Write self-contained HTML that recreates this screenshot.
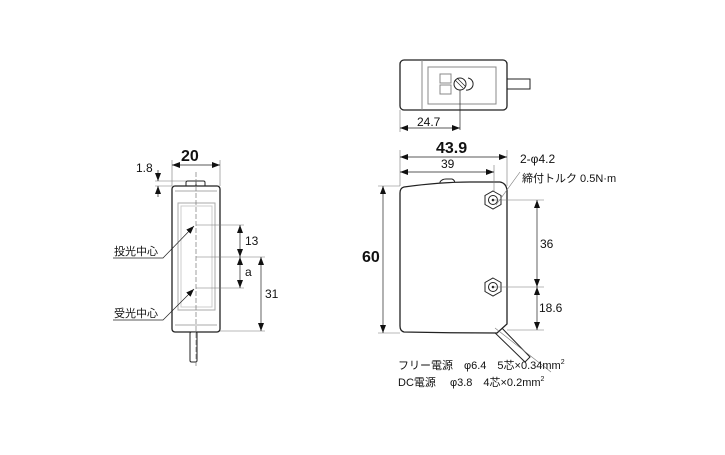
<!DOCTYPE html>
<html><head><meta charset="utf-8"><style>
body{margin:0;background:#fff;width:725px;height:450px;overflow:hidden}
text{font-family:"Liberation Sans","Noto Sans CJK JP",sans-serif;fill:#111}
</style></head><body>
<svg width="725" height="450" viewBox="0 0 725 450" xmlns="http://www.w3.org/2000/svg">
<defs>
<marker id="a" markerWidth="8" markerHeight="6" refX="8" refY="3" orient="auto-start-reverse" markerUnits="userSpaceOnUse"><path d="M0,0 L8,3 L0,6z" fill="#111"/></marker>
</defs>
<g fill="none" stroke="#222" stroke-width="1">
<rect x="186" y="181" width="19" height="6" rx="1.5" fill="#fff"/>
<line x1="196" y1="181" x2="196" y2="187"/>
<rect x="172" y="186" width="48" height="146" rx="3" stroke-width="1.3" fill="#fff"/>
<line x1="175" y1="191" x2="217" y2="191" stroke="#aaa"/>
<line x1="175" y1="325" x2="217" y2="325" stroke="#aaa"/>
<rect x="178" y="203" width="37" height="107" stroke="#aaa"/>
<rect x="181" y="206" width="31" height="101" stroke="#ccc"/>
<rect x="190" y="332" width="7" height="30" rx="1.5" fill="#fff"/>
<line x1="196" y1="172" x2="196" y2="368" stroke="#777" stroke-width="0.7" stroke-dasharray="5,2"/>
<line x1="172" y1="160" x2="172" y2="186" stroke="#777" stroke-width="0.6"/>
<line x1="220" y1="160" x2="220" y2="186" stroke="#777" stroke-width="0.6"/>
<line x1="172" y1="165" x2="220" y2="165" stroke-width="0.7" marker-start="url(#a)" marker-end="url(#a)"/>
<line x1="155" y1="181" x2="186" y2="181" stroke="#777" stroke-width="0.6"/>
<line x1="155" y1="186" x2="172" y2="186" stroke="#777" stroke-width="0.6"/>
<line x1="158" y1="170" x2="158" y2="181" stroke-width="0.7" marker-end="url(#a)"/>
<line x1="158" y1="197" x2="158" y2="186" stroke-width="0.7" marker-end="url(#a)"/>
<line x1="196" y1="225" x2="244" y2="225" stroke="#777" stroke-width="0.6"/>
<line x1="196" y1="257" x2="265" y2="257" stroke="#777" stroke-width="0.6"/>
<line x1="196" y1="288" x2="244" y2="288" stroke="#777" stroke-width="0.6"/>
<line x1="220" y1="331" x2="265" y2="331" stroke="#777" stroke-width="0.6"/>
<line x1="240" y1="225" x2="240" y2="257" stroke-width="0.7" marker-start="url(#a)" marker-end="url(#a)"/>
<line x1="240" y1="257" x2="240" y2="288" stroke-width="0.7" marker-start="url(#a)" marker-end="url(#a)"/>
<line x1="261" y1="257" x2="261" y2="331" stroke-width="0.7" marker-start="url(#a)" marker-end="url(#a)"/>
<polyline points="113,258 163,258 194,226" stroke-width="0.7" marker-end="url(#a)"/>
<polyline points="113,320 163,320 194,289" stroke-width="0.7" marker-end="url(#a)"/>

<rect x="507" y="79" width="23" height="10" fill="#fff"/>
<rect x="400" y="60" width="107" height="50" rx="4" stroke-width="1.3" fill="#fff"/>
<line x1="422" y1="60" x2="422" y2="110" stroke="#888"/>
<rect x="428" y="67" width="68" height="37" stroke="#888"/>
<rect x="440" y="74" width="11" height="9" stroke="#888"/>
<rect x="440" y="85" width="11" height="9" stroke="#888"/>
<circle cx="460" cy="84" r="6"/>
<path d="M455,80 L463,88 M457,78 L465,86" stroke-width="0.7"/>
<path d="M468,78 A6,6 0 1 1 466,90" />
<line x1="460" y1="90" x2="460" y2="130" stroke-width="0.7"/>
<line x1="400" y1="110" x2="400" y2="132" stroke="#777" stroke-width="0.6"/>
<line x1="400" y1="128" x2="460" y2="128" stroke-width="0.7" marker-start="url(#a)" marker-end="url(#a)"/>

<path d="M440,186 L440,182 Q442,179 446,179 L452,179 Q455,180 455,184 L465,184 L465,186" fill="#fff"/>
<path d="M496,322 L530,357 L525,362 L490,328z" fill="#fff"/>
<path d="M404,187 Q440,182 470,182 L500,182 Q506,183 507,190 L507,324 L497,333 Q450,333 404,332 Q400,331 400,326 L400,193 Q400,188 404,187z" stroke-width="1.3" fill="#fff"/>
<polygon points="493,191 501,195.5 501,204.5 493,209 485,204.5 485,195.5" fill="#fff"/>
<circle cx="493" cy="200" r="4.5"/><circle cx="493" cy="200" r="0.8" fill="#222"/>
<polygon points="493,278 501,282.5 501,291.5 493,296 485,291.5 485,282.5" fill="#fff"/>
<circle cx="493" cy="287" r="4.5"/><circle cx="493" cy="287" r="0.8" fill="#222"/>
<line x1="400" y1="150" x2="400" y2="186" stroke="#777" stroke-width="0.6"/>
<line x1="507" y1="150" x2="507" y2="186" stroke="#777" stroke-width="0.6"/>
<line x1="494" y1="165" x2="494" y2="191" stroke="#777" stroke-width="0.6"/>
<line x1="400" y1="157" x2="507" y2="157" stroke-width="0.7" marker-start="url(#a)" marker-end="url(#a)"/>
<line x1="400" y1="172" x2="494" y2="172" stroke-width="0.7" marker-start="url(#a)" marker-end="url(#a)"/>
<line x1="378" y1="186" x2="400" y2="186" stroke="#777" stroke-width="0.6"/>
<line x1="378" y1="333" x2="400" y2="333" stroke="#777" stroke-width="0.6"/>
<line x1="383" y1="186" x2="383" y2="333" stroke-width="0.7" marker-start="url(#a)" marker-end="url(#a)"/>
<line x1="493" y1="200" x2="544" y2="200" stroke="#777" stroke-width="0.6"/>
<line x1="493" y1="287" x2="544" y2="287" stroke="#777" stroke-width="0.6"/>
<line x1="507" y1="330" x2="544" y2="330" stroke="#777" stroke-width="0.6"/>
<line x1="537" y1="200" x2="537" y2="287" stroke-width="0.7" marker-start="url(#a)" marker-end="url(#a)"/>
<line x1="537" y1="287" x2="537" y2="330" stroke-width="0.7" marker-start="url(#a)" marker-end="url(#a)"/>
<line x1="496" y1="205" x2="520" y2="172" stroke="#777" stroke-width="0.6"/>
<line x1="495" y1="328" x2="551" y2="372" stroke="#777" stroke-width="0.6"/>
</g>
<g font-size="12">
<text x="181" y="161" font-size="16" font-weight="bold">20</text>
<text x="136" y="172">1.8</text>
<text x="245" y="245">13</text>
<text x="245" y="276">a</text>
<text x="265" y="298">31</text>
<text x="114" y="255" font-size="11">投光中心</text>
<text x="114" y="317" font-size="11">受光中心</text>
<text x="417" y="126">24.7</text>
<text x="436" y="153" font-size="16" font-weight="bold">43.9</text>
<text x="441" y="168">39</text>
<text x="362" y="262" font-size="16" font-weight="bold">60</text>
<text x="520" y="163">2-φ4.2</text>
<text x="522" y="182" font-size="11">締付トルク 0.5N·m</text>
<text x="540" y="248">36</text>
<text x="539" y="312">18.6</text>
<text x="398" y="369" font-size="11">フリー電源　φ6.4　5芯×0.34mm<tspan font-size="7" dy="-5">2</tspan></text>
<text x="398" y="386" font-size="11">DC電源　 φ3.8　4芯×0.2mm<tspan font-size="7" dy="-5">2</tspan></text>
</g>
</svg>
</body></html>
